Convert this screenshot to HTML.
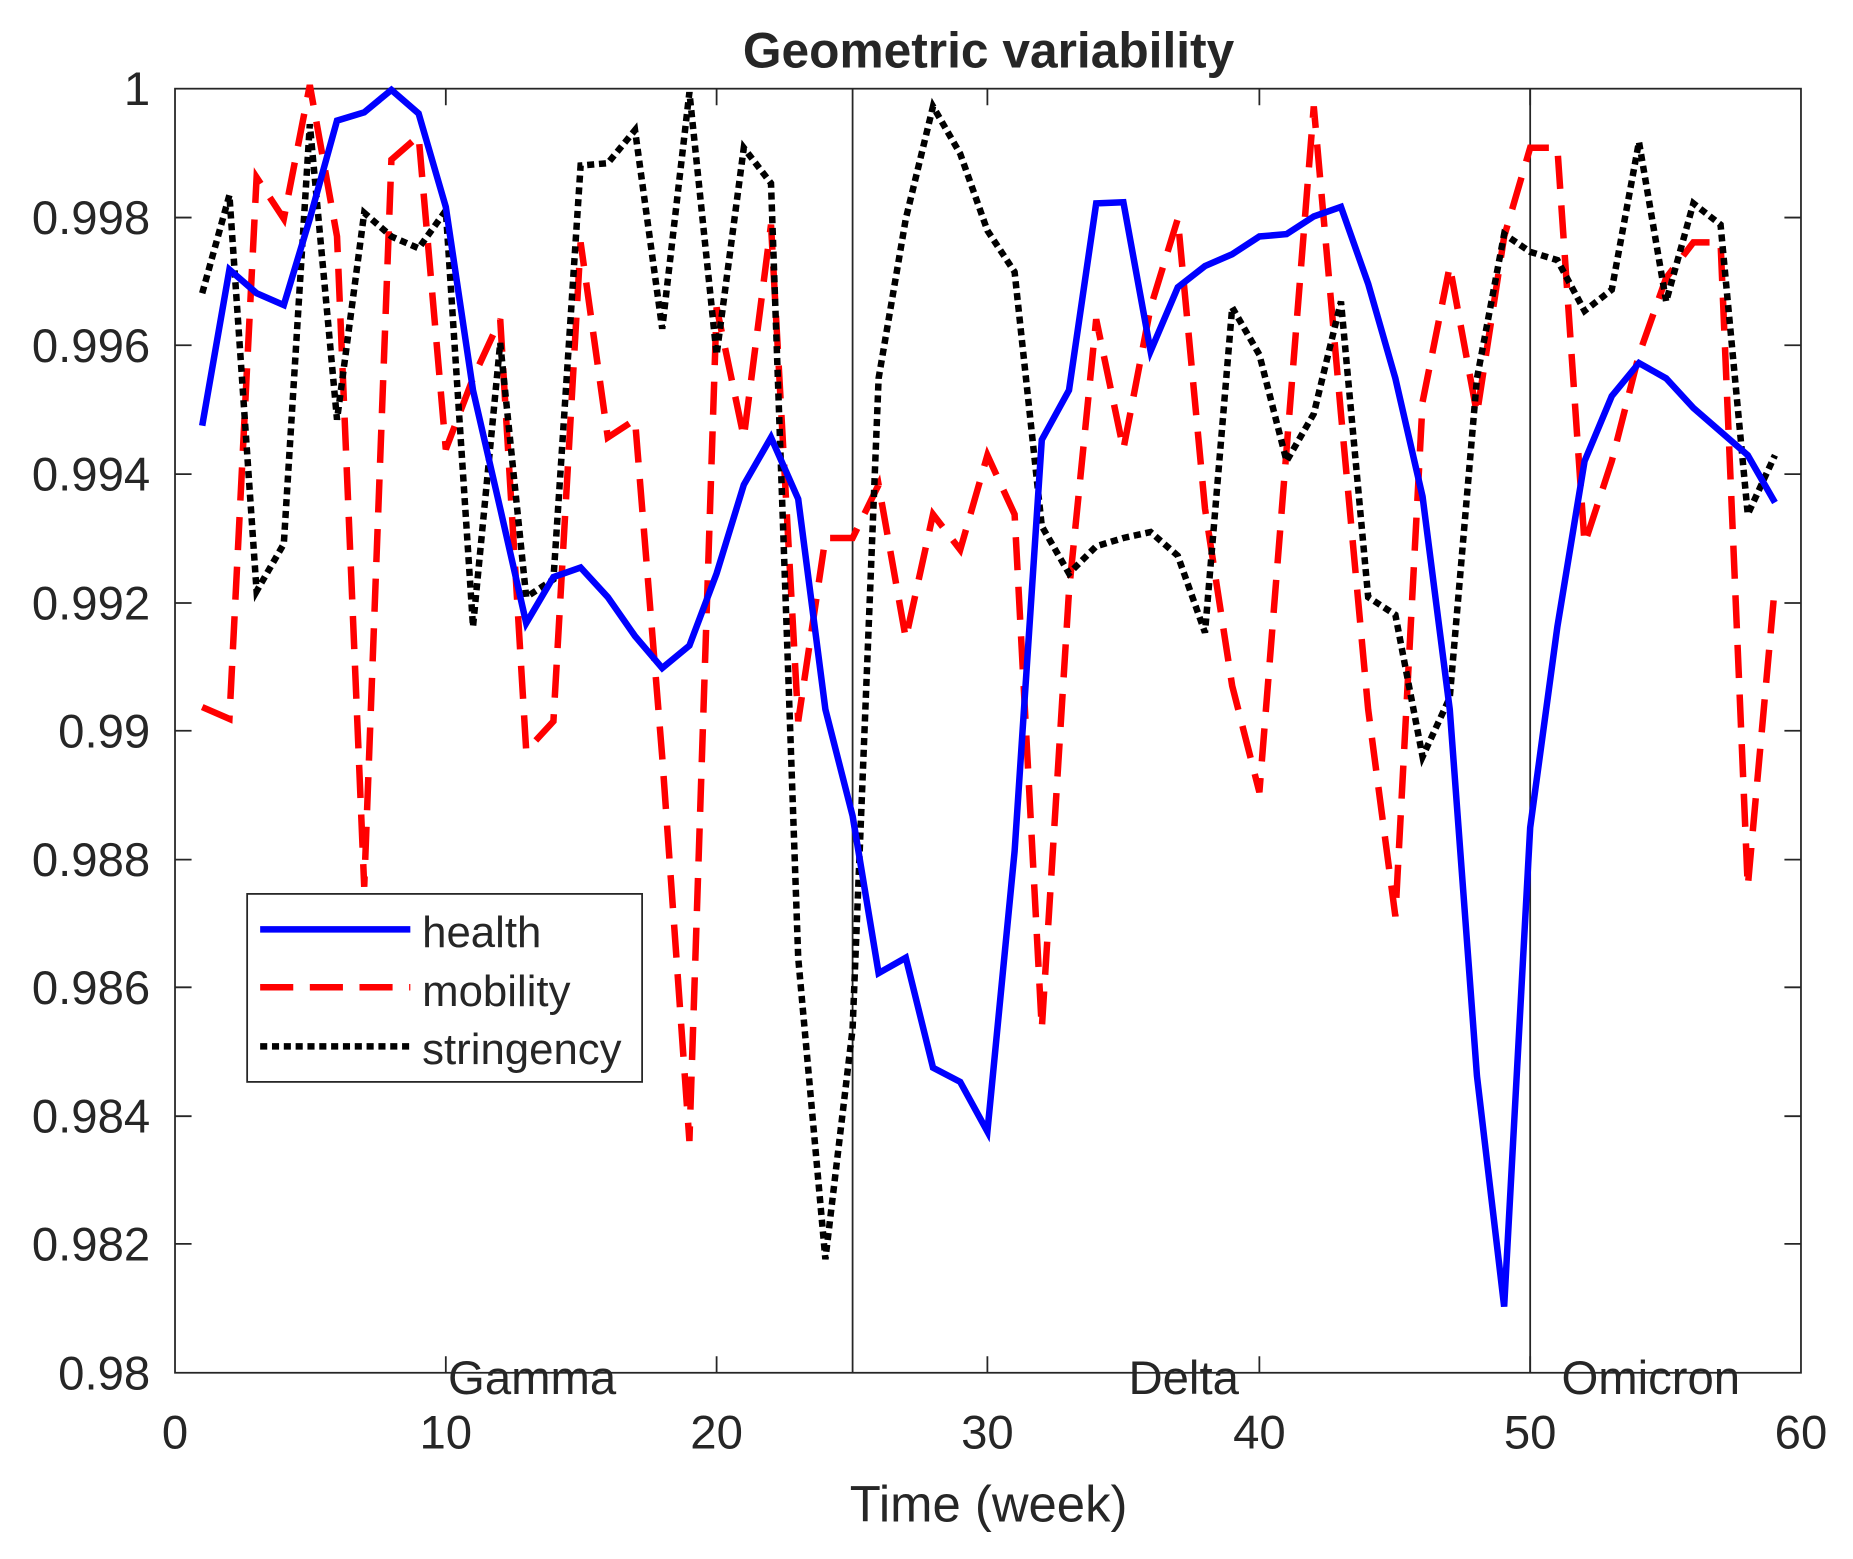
<!DOCTYPE html>
<html><head><meta charset="utf-8"><style>
html,body{margin:0;padding:0;background:#fff;}
svg{display:block;}
text{font-family:"Liberation Sans",sans-serif;fill:#262626;}
</style></head><body>
<svg width="1853" height="1559" viewBox="0 0 1567 1318.5" preserveAspectRatio="none" xmlns="http://www.w3.org/2000/svg">
<rect width="1567" height="1318.5" fill="#fff"/>
<text x="836" y="57" font-size="42" font-weight="bold" text-anchor="middle" fill="#000">Geometric variability</text>
<g stroke="#262626" stroke-width="1.5" fill="none">
<rect x="148" y="75" width="1375" height="1086"/>
<line x1="721" y1="75" x2="721" y2="1161"/>
<line x1="1294" y1="75" x2="1294" y2="1161"/>
<path d="M377 1161v-14M606 1161v-14M835 1161v-14M1065 1161v-14M1294 1161v-14M377 75v14M606 75v14M835 75v14M1065 75v14M1294 75v14"/>
<path d="M148 184h14M148 292h14M148 401h14M148 510h14M148 618h14M148 727h14M148 835h14M148 944h14M148 1052h14M1523 184h-14M1523 292h-14M1523 401h-14M1523 510h-14M1523 618h-14M1523 727h-14M1523 835h-14M1523 944h-14M1523 1052h-14"/>
</g>
<g font-size="40" text-anchor="end">
<text x="127" y="89">1</text>
<text x="127" y="198">0.998</text>
<text x="127" y="306">0.996</text>
<text x="127" y="415">0.994</text>
<text x="127" y="524">0.992</text>
<text x="127" y="632">0.99</text>
<text x="127" y="741">0.988</text>
<text x="127" y="849">0.986</text>
<text x="127" y="958">0.984</text>
<text x="127" y="1066">0.982</text>
<text x="127" y="1175">0.98</text>
</g>
<g font-size="40" text-anchor="middle">
<text x="148" y="1225">0</text>
<text x="377" y="1225">10</text>
<text x="606" y="1225">20</text>
<text x="835" y="1225">30</text>
<text x="1065" y="1225">40</text>
<text x="1294" y="1225">50</text>
<text x="1523" y="1225">60</text>
<text x="836" y="1287" font-size="43">Time (week)</text>
<text x="450" y="1179">Gamma</text>
<text x="1001" y="1179">Delta</text>
<text x="1396" y="1179">Omicron</text>
</g>
<polyline fill="none" stroke="#ff0000" stroke-width="5.5" stroke-dasharray="28,14" points="171,598 194,608 217,150 240,185 262,72 285,200 308,750 331,135 354,115 377,380 400,320 423,270 445,635 468,610 491,205 514,370 537,355 560,640 583,965 606,260 629,370 652,190 675,610 698,455 721,455 743,410 766,540 789,435 812,465 835,385 858,435 881,870 904,500 927,270 950,380 973,260 996,185 1019,430 1042,580 1065,670 1088,380 1111,90 1134,350 1157,600 1180,775 1203,340 1226,225 1249,350 1272,200 1294,125 1317,125 1340,460 1363,390 1386,300 1409,235 1432,205 1455,205 1478,750 1501,495"/>
<polyline fill="none" stroke="#000" stroke-width="5.5" stroke-dasharray="6,4" points="171,248 194,165 217,500 240,460 262,105 285,355 308,180 331,200 354,210 377,178 400,530 423,290 445,505 468,490 491,140 514,138 537,110 560,278 583,78 606,300 629,125 652,155 675,810 698,1065 721,870 743,320 766,185 789,90 812,130 835,195 858,230 881,445 904,485 927,462 950,455 973,450 996,470 1019,535 1042,260 1065,300 1088,390 1111,350 1134,255 1157,505 1180,520 1203,640 1226,590 1249,320 1272,198 1294,213 1317,220 1340,263 1363,245 1386,120 1409,255 1432,172 1455,190 1478,435 1501,385"/>
<polyline fill="none" stroke="#0000ff" stroke-width="5.5" points="171,360 194,228 217,248 240,258 262,185 285,102 308,95 331,76 354,96 377,175 400,330 423,430 445,527 468,488 491,480 514,505 537,538 560,565 583,546 606,485 629,410 652,370 675,422 698,600 721,690 743,823 766,810 789,903 812,915 835,957 858,720 881,372 904,330 927,172 950,171 973,297 996,243 1019,225 1042,215 1065,200 1088,198 1111,183 1134,175 1157,240 1180,320 1203,420 1226,600 1249,910 1272,1105 1294,700 1317,530 1340,390 1363,335 1386,307 1409,320 1432,345 1455,365 1478,385 1501,425"/>
<rect x="209" y="756" width="334" height="159" fill="#fff" stroke="#262626" stroke-width="1.5"/>
<line x1="220" y1="786" x2="347" y2="786" stroke="#0000ff" stroke-width="5.5"/>
<line x1="220" y1="835" x2="347" y2="835" stroke="#ff0000" stroke-width="5.5" stroke-dasharray="28,14"/>
<line x1="220" y1="885" x2="347" y2="885" stroke="#000" stroke-width="5.5" stroke-dasharray="6,4"/>
<g font-size="37">
<text x="357" y="801">health</text>
<text x="357" y="851">mobility</text>
<text x="357" y="900">stringency</text>
</g>
</svg>
</body></html>
